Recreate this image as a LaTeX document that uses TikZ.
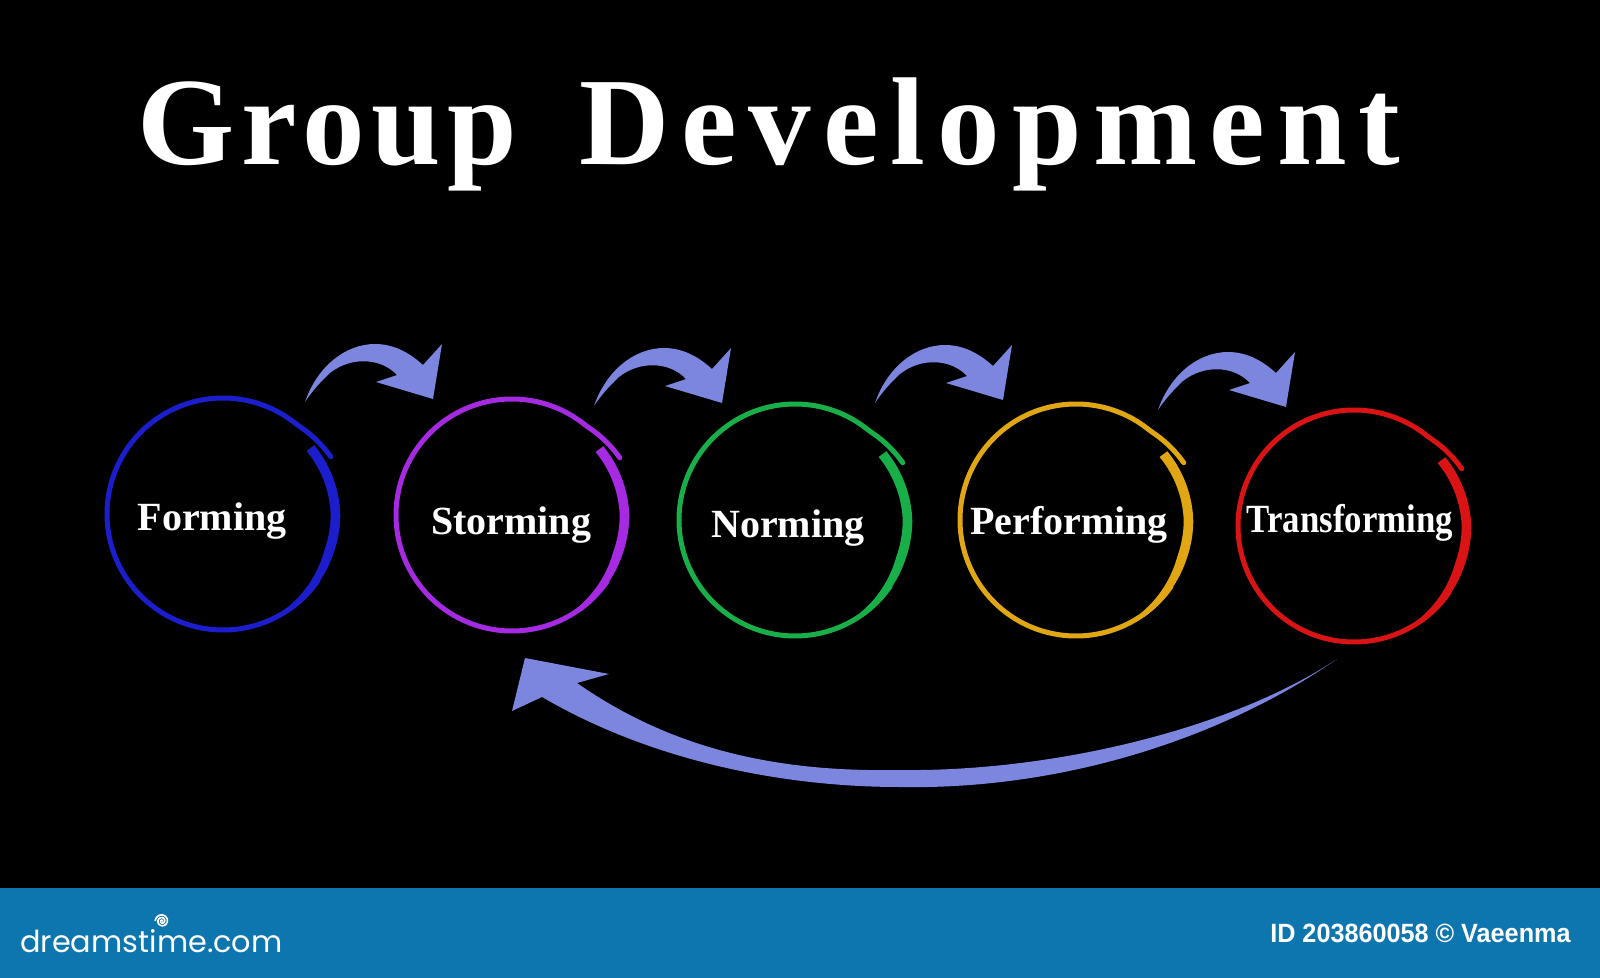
\documentclass[tikz,border=0pt]{standalone}
\usepackage{fontspec}
\setmainfont{Liberation Serif}
\newfontfamily\bannerfont{Poppins}
\newfontfamily\idfont{Liberation Sans}
\usetikzlibrary{calc}
\definecolor{arrowc}{RGB}{124,134,222}
\definecolor{cblue}{RGB}{28,30,205}
\definecolor{cpurple}{RGB}{165,42,225}
\definecolor{cgreen}{RGB}{24,175,72}
\definecolor{cgold}{RGB}{224,166,20}
\definecolor{cred}{RGB}{218,20,20}
\definecolor{bannerblue}{RGB}{14,118,174}
\newcommand\lspa{\kern3.2pt}
\newcommand\lspb{\kern6pt}
\newcommand\brushring[4]{%
 \draw[#1, line width=2.5pt, line cap=round] plot[domain=28:325, samples=100, smooth] ({#2+(#4+6*max(0,(50-\x)/22))*cos(\x)}, {#3-(#4+6*max(0,(50-\x)/22))*sin(\x)});
 \fill[#1] plot[domain=37:-55, samples=50, smooth] ({#2+(#4-1.2*min(1,(\x+55)/35)-3*max(0,\x/37)+2.5)*cos(\x)}, {#3-(#4-1.2*min(1,(\x+55)/35)-3*max(0,\x/37)+2.5)*sin(\x)})
  -- plot[domain=-55:37, samples=50, smooth] ({#2+(#4-5.8*min(1,(\x+55)/35)-3*max(0,\x/37)-2.5)*cos(\x)}, {#3-(#4-5.8*min(1,(\x+55)/35)-3*max(0,\x/37)-2.5)*sin(\x)}) -- cycle;
}
\tikzset{
 lbl/.style={text=white, font=\fontsize{20pt}{24pt}\selectfont\bfseries, anchor=base, inner sep=0pt},
 toparrow/.pic={\fill[arrowc] (0,0) .. controls (12,-35) and (40,-58) .. (70,-58) .. controls (92,-58) and (108,-46) .. (118,-37) -- (137,-58) -- (128,-3) -- (71,-20) -- (92,-27) .. controls (75,-45) and (45,-45) .. (25,-29) .. controls (15,-20) and (5,-8) .. (0,0) -- cycle;}
}
\begin{document}
\begin{tikzpicture}[x=0.5pt, y=-0.5pt]
\useasboundingbox (0,0) rectangle (1600,978);
\fill[black] (0,0) rectangle (1600,978);
% title
\node[anchor=base west, text=white, inner sep=0pt, font=\fontsize{62.5pt}{70pt}\selectfont\bfseries] (title) at (137,165) {G\lspa r\lspa o\lspa u\lspa p\kern31pt D\lspb e\lspb v\lspb e\lspb l\lspb o\lspb p\lspb m\lspb e\lspb n\lspb t};
% ring centres
\coordinate (c1) at (223,514);
\coordinate (c2) at (512,515);
\coordinate (c3) at (795,520);
\coordinate (c4) at (1076,520);
\coordinate (c5) at (1354,526);
\brushring{cblue}{223}{514}{116}
\brushring{cpurple}{512}{515}{116}
\brushring{cgreen}{795}{520}{116}
\brushring{cgold}{1076}{520}{116}
\brushring{cred}{1354}{526}{116}
% labels
\node[lbl] (forming) at (212,530) {Forming};
\node[lbl] (storming) at (511,534) {Storming};
\node[lbl] (norming) at (788,537) {Norming};
\node[lbl] (performing) at (1069,534) {Performing};
\node[lbl] (transforming) at (1350,532) {\scalebox{0.87}[1]{Transforming}};
% top arrows
\pic at ($(c1)+(82,-112)$) {toparrow};
\pic at ($(c2)+(82,-109)$) {toparrow};
\pic at ($(c3)+(80,-117)$) {toparrow};
\pic at ($(c4)+(82,-110)$) {toparrow};
% return arrow
\fill[arrowc] (577,683) .. controls (680,755) and (790,772) .. (900,770) .. controls (1050,772) and (1230,730) .. (1337,659) .. controls (1220,740) and (1060,790) .. (900,787) .. controls (780,787) and (650,760) .. (542,697) -- (512,711) -- (525,658) -- (609,674) -- cycle;
% banner
\fill[bannerblue] (0,888) rectangle (1600,978);
\node[anchor=base west, text=white, inner sep=0pt, font=\bannerfont\fontsize{18pt}{20pt}\selectfont] (logo) at (20,952) {\resizebox{131pt}{11.5pt}{dreamstime.com}};
\draw[white, line width=0.8pt] plot[domain=0:900, samples=60, smooth] ({162+0.0075*\x*cos(\x)}, {921-0.0075*\x*sin(\x)});
\node[anchor=base east, text=white, inner sep=0pt, font=\idfont\bfseries\fontsize{13.2pt}{16pt}\selectfont] (imgid) at (1571,942) {\scalebox{0.955}[1]{ID 203860058 © Vaeenma}};
\end{tikzpicture}
\end{document}
